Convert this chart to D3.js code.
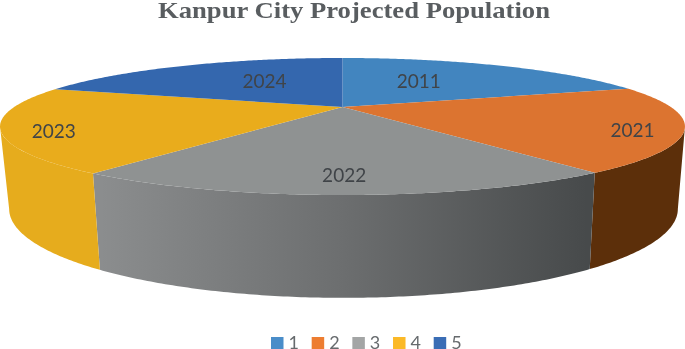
<!DOCTYPE html>
<html>
<head>
<meta charset="utf-8">
<script src="https://cdn.jsdelivr.net/npm/d3@7/dist/d3.min.js"></script>
<style>html,body{margin:0;padding:0;background:#fff}svg{display:block;filter:blur(0.45px)}</style>
</head>
<body>
<svg id="chart" width="685" height="349"></svg>
<script>
const chartTitle = "Kanpur City Projected Population";
const categories = ["1", "2", "3", "4", "5"];
const seriesValues = [2011, 2021, 2022, 2023, 2024];
const topColors = ["#4285bf", "#dc7430", "#8f9292", "#e9ac1c", "#3467ae"];
const sideColors = ["#2f6390", "#5c2f0a", "#8b8d8e", "#e6ac1d", "#264d85"];
const legendColors = ["#4a8dc9", "#ed7d31", "#a3a5a5", "#fbb927", "#3a6db5"];

const W = 685, H = 349;
const svg = d3.select("#chart");

// Perspective projection of the tilted disc: two planes, top face and bottom rim
const persp = 0.2847;
const topPlane = {cx: 342.5, cy: 107, a: 62.95, b: 328.3};
const lowPlane = {cx: 343.5, cy: 183.7, a: 81.65, b: 320.5};
function project(plane, angle, r = 1) {
  const u = Math.sin(angle) * r, v = Math.cos(angle) * r;
  const d = 1 + persp * v;
  return [plane.cx + plane.b * u / d, plane.cy - plane.a * v / d];
}
function sampleAngles(a0, a1) {
  const n = Math.ceil((a1 - a0) / 0.01);
  return d3.range(n + 1).map(i => a0 + (a1 - a0) * i / n);
}

const pie = d3.pie().sort(null).startAngle(0).endAngle(2 * Math.PI);
const slices = pie(seriesValues);
const line = d3.line();

// Only the part of the wall between the two silhouette tangents is visible
const tangent = Math.acos(-persp);
const visibleFrom = tangent, visibleTo = 2 * Math.PI - tangent;

const defs = svg.append("defs");
const grad = defs.append("linearGradient").attr("id", "frontWall")
  .attr("gradientUnits", "userSpaceOnUse").attr("x1", 101).attr("x2", 587).attr("y1", 0).attr("y2", 0);
grad.append("stop").attr("offset", 0).attr("stop-color", "#8b8d8e");
grad.append("stop").attr("offset", 0.5).attr("stop-color", "#6c6e6f");
grad.append("stop").attr("offset", 1).attr("stop-color", "#474a4b");

// Side walls
const walls = slices.map((s, i) => ({
  i,
  a0: Math.max(s.startAngle, visibleFrom),
  a1: Math.min(s.endAngle, visibleTo)
})).filter(w => w.a1 > w.a0);
svg.append("g").selectAll("path").data(walls).join("path")
  .attr("d", w => {
    const as = sampleAngles(w.a0, w.a1);
    const pts = as.map(a => project(topPlane, a)).concat(as.slice().reverse().map(a => project(lowPlane, a)));
    return line(pts) + "Z";
  })
  .attr("fill", w => w.i === 2 ? "url(#frontWall)" : sideColors[w.i]);

// Top faces
svg.append("g").selectAll("path").data(slices).join("path")
  .attr("d", s => {
    const pts = [project(topPlane, 0, 0)].concat(sampleAngles(s.startAngle, s.endAngle).map(a => project(topPlane, a)));
    return line(pts) + "Z";
  })
  .attr("fill", (s, i) => topColors[i]);

// Data labels
const labelRadius = [0.6, 0.85, 0.83, 0.85, 0.6];
const labelNudge = [[-25, 0], [3, 5], [0, -1], [-2, 5], [24, 0]];
svg.append("g").selectAll("text").data(slices).join("text")
  .each(function (s, i) {
    const p = project(topPlane, (s.startAngle + s.endAngle) / 2, labelRadius[i]);
    d3.select(this).attr("x", p[0] + labelNudge[i][0]).attr("y", p[1] + labelNudge[i][1]);
  })
  .attr("text-anchor", "middle").attr("dominant-baseline", "central")
  .attr("font-family", "Lato, 'Open Sans', sans-serif").attr("font-size", 19)
  .attr("fill", "#404448")
  .text(s => s.value);

// Title
svg.append("text").attr("x", 158).attr("y", 18)
  .attr("textLength", 392).attr("lengthAdjust", "spacingAndGlyphs")
  .attr("font-family", "'Liberation Serif', serif").attr("font-weight", "bold")
  .attr("font-size", 24).attr("fill", "#595d60")
  .text(chartTitle);

// Legend
const legendX = d3.scalePoint().domain(categories).range([271, 433.7]);
const legend = svg.append("g").selectAll("g").data(categories).join("g")
  .attr("transform", d => `translate(${legendX(d)},337)`);
legend.append("rect").attr("width", 12.5).attr("height", 12)
  .attr("fill", (d, i) => legendColors[i]);
legend.append("text").attr("x", 17.5).attr("y", 11.5)
  .attr("font-family", "Lato, 'Open Sans', sans-serif").attr("font-size", 18)
  .attr("fill", "#666a6d").text(d => d);
</script>
</body>
</html>
